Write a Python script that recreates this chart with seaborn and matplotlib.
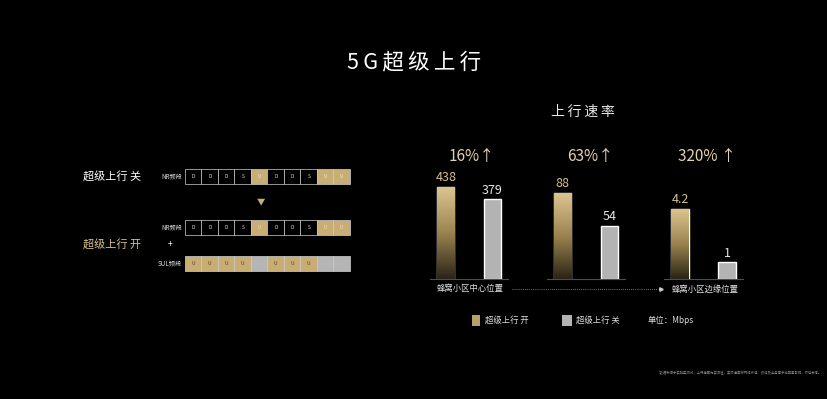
import numpy as np
import matplotlib
matplotlib.use('Agg')
import matplotlib.pyplot as plt
import seaborn as sns
from matplotlib.patches import Rectangle
from matplotlib.colors import LinearSegmentedColormap

sns.set_style('dark')
plt.rcParams['font.family'] = ['Noto Sans CJK SC', 'DejaVu Sans']

# chart data
series = ['超级上行 开', '超级上行 关']
sul_on = [438, 88, 4.2]
sul_off = [379, 54, 1]
labels_on = ['438', '88', '4.2']
labels_off = ['379', '54', '1']
gain_labels = ['16%↑', '63%↑', '320% ↑']
pos_labels = ['蜂窝小区中心位置', '蜂窝小区边缘位置']
nr_slots = ['D', 'D', 'D', 'S', 'U', 'D', 'D', 'S', 'U', 'U']
sul_slots = ['U', 'U', 'U', 'U', '', 'U', 'U', 'U', '', '']

GOLD = '#c8ad74'
GREY = '#b3b3b3'

W, H = 828, 399
fig = plt.figure(figsize=(W / 100, H / 100), dpi=100, facecolor='black')

# full-size overlay in pixel coords for titles / diagram
bg = fig.add_axes([0, 0, 1, 1])
bg.set_xlim(0, W)
bg.set_ylim(H, 0)
bg.axis('off')
bg.set_facecolor('black')


def spaced(s):
    return '\u2009'.join(s)


bg.text(414, 62, spaced('5G超级上行'), color='white', fontsize=15.5, ha='center', va='center')
bg.text(583, 112, spaced('上行速率'), color='#e6e6e6', fontsize=10, ha='center', va='center')

# bar groups, each with its own scale
spans = [(430, 508), (547, 625), (664, 743)]
gold_px = [92, 86, 70]   # drawn height of the gold bar (px)
AX_H = 110
BASE = 279
gold_cmap = LinearSegmentedColormap.from_list('gold', ['#2a2315', '#9a8350', '#dcc58f'])

for i, (x0, x1) in enumerate(spans):
    ax = fig.add_axes([x0 / W, (H - BASE) / H, (x1 - x0) / W, AX_H / H])
    sns.barplot(x=series, y=[sul_on[i], sul_off[i]], hue=series, palette=[GOLD, GREY],
                width=0.37, saturation=1, legend=False, ax=ax)
    ax.set_facecolor('none')
    ax.grid(False)
    # gradient fill on the gold bar
    gb = ax.patches[0]
    grad = np.linspace(0, 1, 256).reshape(-1, 1)
    im = ax.imshow(grad, extent=[gb.get_x(), gb.get_x() + gb.get_width(), 0, gb.get_height()],
                   origin='lower', cmap=gold_cmap, aspect='auto', zorder=gb.get_zorder() + 0.1)
    im.set_clip_path(gb)
    gb.set_facecolor('none')
    ax.set_xlim(-0.34, 1.34)
    ax.set_ylim(0, sul_on[i] * AX_H / gold_px[i])
    ax.bar_label(ax.containers[0], labels=[labels_on[i]], color='#d6c08e', fontsize=9, padding=2)
    ax.bar_label(ax.containers[1], labels=[labels_off[i]], color='#e6e6e6', fontsize=9, padding=2)
    for s in ['top', 'right', 'left']:
        ax.spines[s].set_visible(False)
    ax.spines['bottom'].set_color('#4d4d4d')
    ax.spines['bottom'].set_linewidth(0.8)
    ax.set_xticks([])
    ax.set_yticks([])
    ax.set_xlabel('')
    ax.set_ylabel('')

for xc, g in zip([472, 590, 707], gain_labels):
    bg.text(xc, 157, g, color='#e3d3ac', fontsize=11, ha='center', va='center')

# position axis under the bars
bg.text(470, 289, pos_labels[0], color='#e0e0e0', fontsize=6, ha='center', va='center')
bg.text(705, 289, pos_labels[1], color='#e0e0e0', fontsize=6, ha='center', va='center')
bg.plot([512, 658], [289, 289], ls=(0, (1, 1.5)), color='#999999', lw=0.6)
bg.plot([661], [289], marker='>', ms=2.5, color='#cccccc')

# legend
bg.add_patch(Rectangle((472, 315), 8, 11, facecolor='#b9a06a', edgecolor='none'))
bg.text(485, 320.5, '超级上行 开', color='#dddddd', fontsize=6, ha='left', va='center')
bg.add_patch(Rectangle((562, 315), 10, 11, facecolor=GREY, edgecolor='none'))
bg.text(576, 320.5, '超级上行 关', color='#dddddd', fontsize=6, ha='left', va='center')
bg.text(648, 320.5, '单位：Mbps', color='#dddddd', fontsize=6, ha='left', va='center')

# left-side slot diagram
CX0, CW, CH = 185, 16.5, 15
rows = [(169, nr_slots, 'NR频段', False), (220, nr_slots, 'NR频段', False), (256, sul_slots, 'SUL频段', True)]
for ytop, slots, name, is_sul in rows:
    bg.text(182, ytop + CH / 2, name, ha='right', va='center', fontsize=4.5, color='#dddddd')
    for j, s in enumerate(slots):
        if is_sul:
            fc = GOLD if s else '#b5b5b5'
            tc = '#4a3d22'
        else:
            fc = GOLD if s == 'U' else 'black'
            tc = '#f0e6cc' if s == 'U' else '#dddddd'
        bg.add_patch(Rectangle((CX0 + j * CW, ytop), CW, CH, facecolor=fc, edgecolor='#d0d0d0', lw=0.5))
        bg.text(CX0 + j * CW + CW / 2, ytop + CH / 2, s, fontsize=3.5, color=tc, ha='center', va='center')

bg.text(83, 177, '超级上行 关', fontsize=8, color='white', ha='left', va='center')
bg.text(83, 245, '超级上行 开', fontsize=8, color='#d9c38e', ha='left', va='center')
bg.text(261, 202, '▼', fontsize=6, color=GOLD, ha='center', va='center')
bg.text(170, 245, '+', fontsize=6, color='white', ha='center', va='center')

# footnote
bg.text(822, 373, '*数据来源于实验室测试，上行速率为实测值，实际速率受网络环境、终端及业务等多种因素影响，仅供参考。',
        fontsize=2.4, color='#8a8a8a', ha='right', va='center')

fig.savefig('out.png', dpi=100, facecolor='black')
